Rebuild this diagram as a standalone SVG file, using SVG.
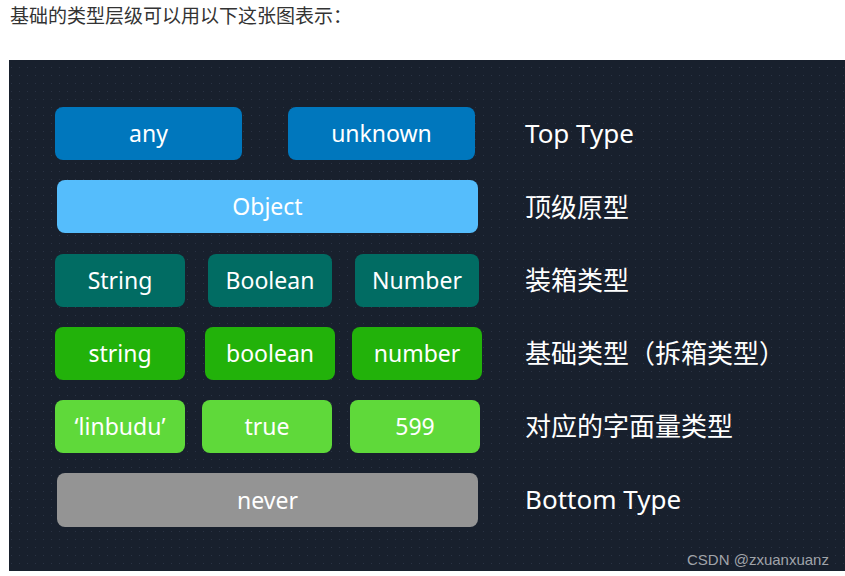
<svg xmlns="http://www.w3.org/2000/svg" width="845" height="576" viewBox="0 0 845 576">
<style>
.t{font-family:"Noto Sans","Noto Sans CJK SC",sans-serif;fill:#ffffff;text-anchor:middle;font-size:23px}
.l{font-family:"Noto Sans","Noto Sans CJK SC",sans-serif;fill:#ffffff;font-size:26px}
.top{fill:#0077bd}.obj{fill:#55bdfc}.box{fill:#016c63}.prim{fill:#22b20a}.lit{fill:#5fd93a}.nev{fill:#949494}
</style>
<defs>
<pattern id="dots" width="8" height="8" patternUnits="userSpaceOnUse">
<rect x="3" y="3" width="1" height="1" fill="#2a3344"/>
</pattern>
</defs>
<rect width="845" height="576" fill="#ffffff"/>
<text x="10" y="23" font-family="'Noto Sans CJK SC',sans-serif" font-size="19" fill="#333333">基础的类型层级可以用以下这张图表示：</text>
<rect x="9" y="60" width="836" height="511" fill="#18202d"/>
<rect x="9" y="60" width="836" height="511" fill="url(#dots)"/>
<g id="connectors"></g>
<g id="any"><rect class="top" x="55" y="107" width="187" height="53" rx="8"/><text class="t" x="148.5" y="142">any</text></g>
<g id="unknown"><rect class="top" x="288" y="107" width="187" height="53" rx="8"/><text class="t" x="381.5" y="142">unknown</text></g>
<g id="Object"><rect class="obj" x="57" y="180" width="421" height="53" rx="8"/><text class="t" x="267.5" y="215">Object</text></g>
<g id="String"><rect class="box" x="55" y="254" width="130" height="53" rx="8"/><text class="t" x="120" y="289">String</text></g>
<g id="Boolean"><rect class="box" x="208" y="254" width="124" height="53" rx="8"/><text class="t" x="270" y="289">Boolean</text></g>
<g id="Number"><rect class="box" x="355" y="254" width="124" height="53" rx="8"/><text class="t" x="417" y="289">Number</text></g>
<g id="string"><rect class="prim" x="55" y="327" width="130" height="53" rx="8"/><text class="t" x="120" y="362">string</text></g>
<g id="boolean"><rect class="prim" x="205" y="327" width="130" height="53" rx="8"/><text class="t" x="270" y="362">boolean</text></g>
<g id="number"><rect class="prim" x="352" y="327" width="130" height="53" rx="8"/><text class="t" x="417" y="362">number</text></g>
<g id="linbudu"><rect class="lit" x="55" y="400" width="130" height="53" rx="8"/><text class="t" x="120" y="435">‘linbudu’</text></g>
<g id="true"><rect class="lit" x="202" y="400" width="130" height="53" rx="8"/><text class="t" x="267" y="435">true</text></g>
<g id="n599"><rect class="lit" x="350" y="400" width="130" height="53" rx="8"/><text class="t" x="415" y="435">599</text></g>
<g id="never"><rect class="nev" x="57" y="473" width="421" height="54" rx="8"/><text class="t" x="267.5" y="509">never</text></g>
<g id="labels">
<text class="l" x="525" y="143">Top Type</text>
<text class="l" x="525" y="217">顶级原型</text>
<text class="l" x="525" y="290">装箱类型</text>
<text class="l" x="525" y="363">基础类型（拆箱类型）</text>
<text class="l" x="525" y="436">对应的字面量类型</text>
<text class="l" x="525" y="509">Bottom Type</text>
</g>
<text x="687" y="565" font-family="'Liberation Sans',sans-serif" font-size="15" fill="#a0a4aa">CSDN @zxuanxuanz</text>
</svg>
